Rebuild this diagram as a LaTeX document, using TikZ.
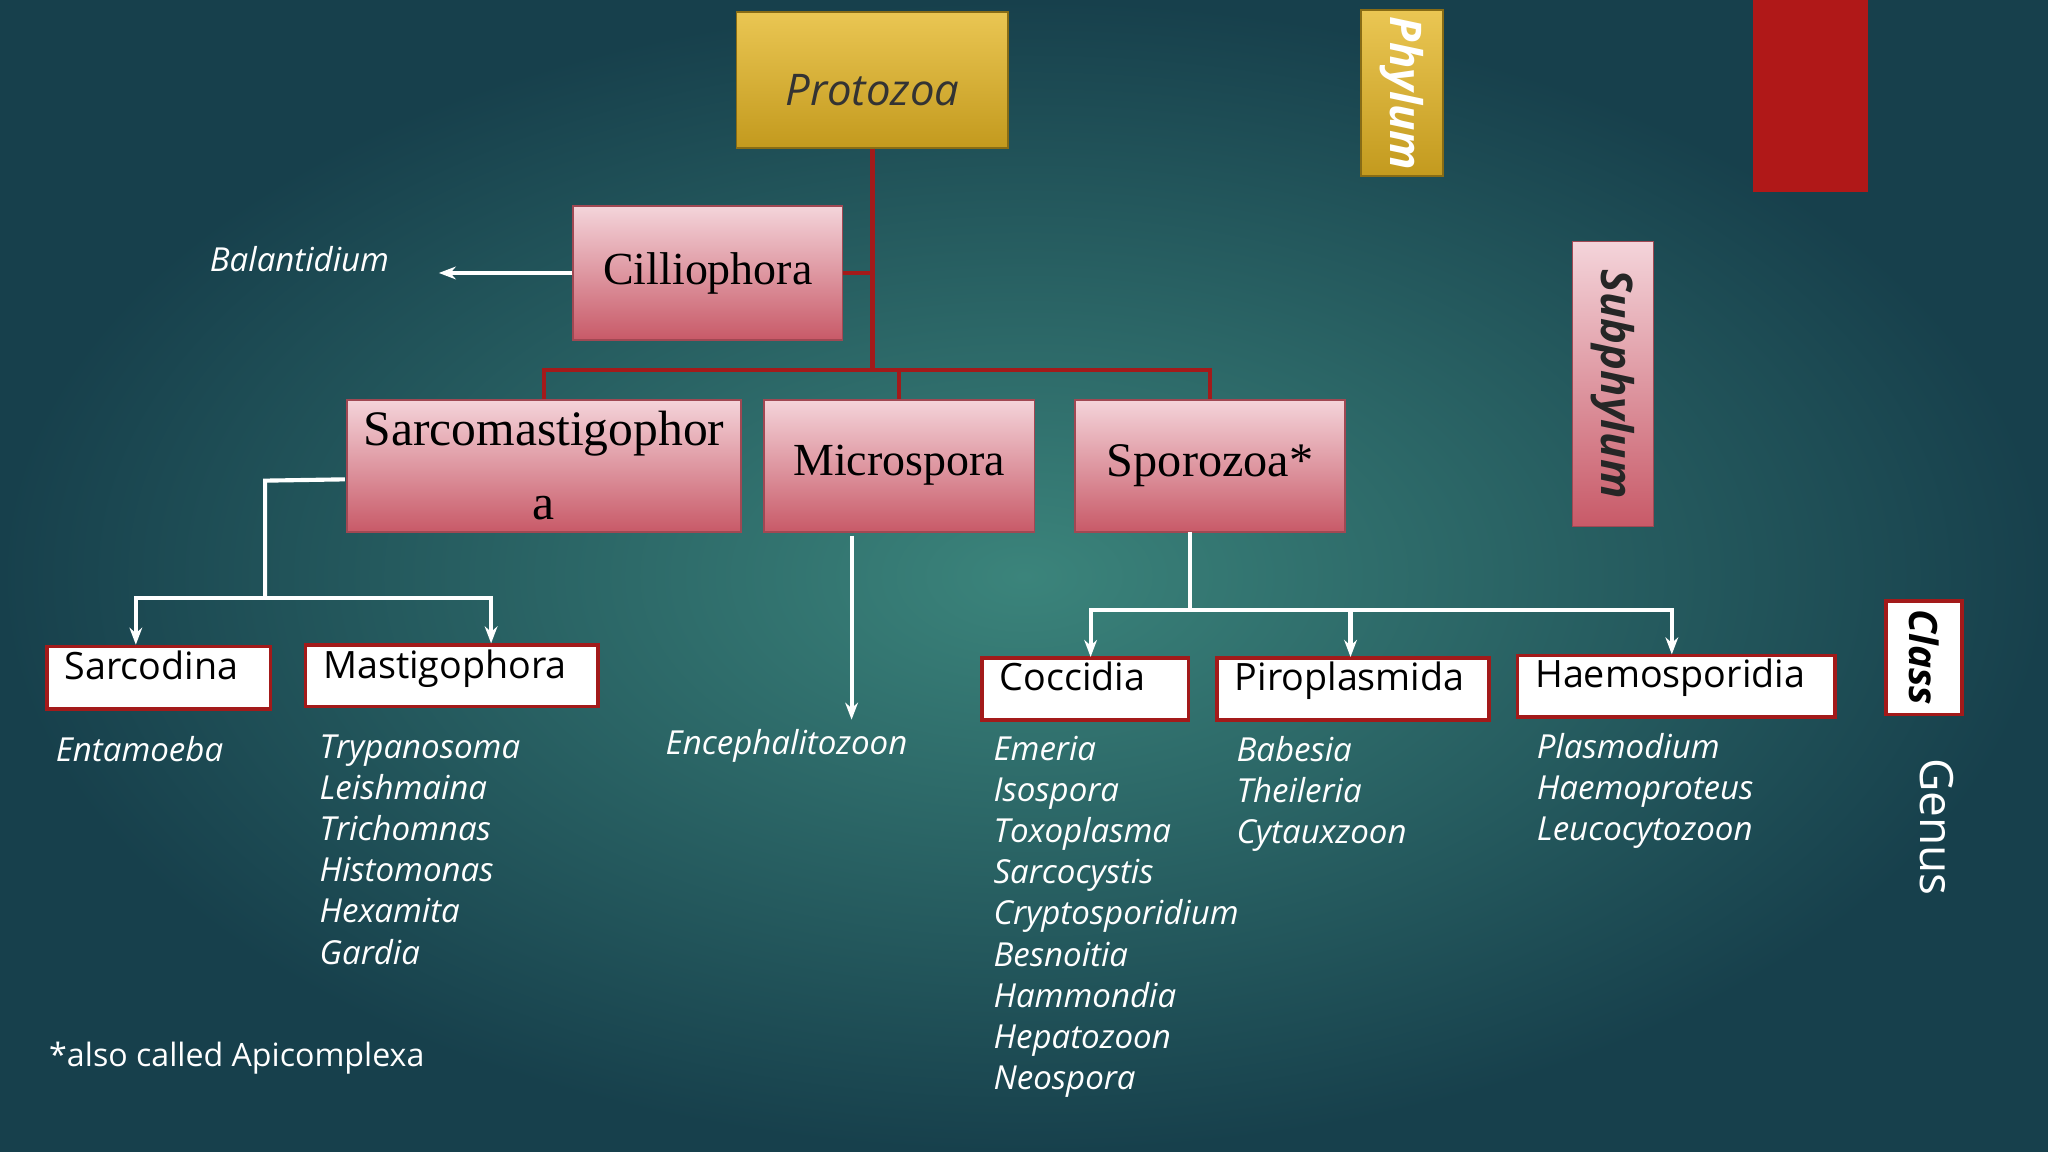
\documentclass[tikz,border=0pt]{standalone}
\usepackage{fontspec}
\setmainfont{Liberation Serif}
\newfontfamily\sansf{Open Sans}
\usetikzlibrary{arrows.meta,positioning}
\definecolor{bgin}{HTML}{3B847B}
\definecolor{bgout}{HTML}{17404C}
\definecolor{linkred}{HTML}{A31A1A}
\definecolor{goldtop}{HTML}{EAC653}
\definecolor{goldbot}{HTML}{C39A1E}
\definecolor{pinktop}{HTML}{F4D4DA}
\definecolor{pinkbot}{HTML}{C85A68}
\definecolor{blockred}{HTML}{B01818}
\tikzset{
  gold/.style={draw=goldbot!70!black, top color=goldtop, bottom color=goldbot, inner sep=0pt},
  pink/.style={draw=pinkbot!80!black, top color=pinktop, bottom color=pinkbot, inner sep=0pt,
    font=\fontsize{10}{12}\selectfont},
  cls/.style={draw=linkred, thick, fill=white, inner sep=0pt, text depth=0pt,
    font=\sansf\fontsize{8.2}{10}\selectfont},
  genus/.style={anchor=north west, align=left, text=white, inner sep=0pt,
    font=\sansf\itshape\fontsize{7.2}{8.95}\selectfont},
  redlink/.style={draw=linkred, line width=0.9pt},
  whitelink/.style={draw=white, line width=0.9pt},
  whitearrow/.style={whitelink, -{Stealth[length=1.3mm]}}
}
\begin{document}
\begin{tikzpicture}[x=0.01cm,y=-0.01cm]
\shade[inner color=bgin, outer color=bgout] (0,0) rectangle (1568,882);
\useasboundingbox (0,0) rectangle (1568,882);
% top level
\node[gold, minimum width=2.08cm, minimum height=1.04cm] (protozoa) at (668,61) {};
\node[font=\sansf\itshape\fontsize{9.5}{12}\selectfont, text=black!80] at (668,69) {Protozoa};
\node[gold, minimum width=0.63cm, minimum height=1.27cm] (phylum) at (1073.5,71.5) {};
\node[rotate=-90, font=\sansf\bfseries\itshape\fontsize{9.5}{12}\selectfont, text=white] at (phylum.center) {Phylum};
\fill[blockred] (1342,0) rectangle (1430,147);
% subphyla
\node[pink, minimum width=2.06cm, minimum height=1.02cm] (cilio) at (542,209) {Cilliophora};
\node[pink, minimum width=3.01cm, minimum height=1.01cm, align=center,
  font=\fontsize{10.8}{16}\selectfont] (sarco) at (416.5,356.5) {Sarcomastigophor\\a};
\node[pink, minimum width=2.07cm, minimum height=1.01cm] (micro) at (688.5,356.5) {Microspora};
\node[pink, minimum width=2.07cm, minimum height=1.01cm, font=\fontsize{10.5}{12}\selectfont] (sporo) at (926.5,356.5) {Sporozoa*};
\node[pink, minimum width=0.62cm, minimum height=2.18cm] (subph) at (1235,294) {};
\node[rotate=-90, font=\sansf\bfseries\itshape\fontsize{9.5}{12}\selectfont, text=black!85] at (subph.center) {Subphylum};
% classes
\node[cls, minimum width=1.71cm, minimum height=0.48cm] (sarcodina) at (121.5,519) {};
\node[cls, anchor=north west, draw=none, fill=none] at (48,497) {Sarcodina};
\node[cls, minimum width=2.24cm, minimum height=0.47cm] (mastigo) at (346,517.5) {};
\node[cls, anchor=north west, draw=none, fill=none] at (246,496) {Mastigophora};
\node[cls, minimum width=1.58cm, minimum height=0.47cm] (coccidia) at (831,527.5) {};
\node[cls, anchor=north west, draw=none, fill=none] at (764,505) {Coccidia};
\node[cls, minimum width=2.08cm, minimum height=0.47cm] (piro) at (1036,527.5) {};
\node[cls, anchor=north west, draw=none, fill=none] at (944,505) {Piroplasmida};
\node[cls, minimum width=2.43cm, minimum height=0.47cm] (haemo) at (1283.5,525.5) {};
\node[cls, anchor=north west, draw=none, fill=none] at (1174,503) {Haemosporidia};
\node[cls, minimum width=0.58cm, minimum height=0.87cm] (classlbl) at (1473,503.5) {};
\node[rotate=-90, font=\sansf\bfseries\itshape\fontsize{8.5}{10}\selectfont] at (classlbl.center) {Class};
\node[rotate=-90, text=white, font=\sansf\fontsize{10}{12}\selectfont] (genuslbl) at (1483,633) {Genus};
% genera
\node[genus] (balant) at (160,188) {Balantidium};
\node[genus] (entam) at (42,563) {Entamoeba};
\node[genus] (mastlist) at (244,562) {Trypanosoma\\Leishmaina\\Trichomnas\\Histomonas\\Hexamita\\Gardia};
\node[genus] (enceph) at (509,558) {Encephalitozoon};
\node[genus] (coclist) at (760,563) {Emeria\\Isospora\\Toxoplasma\\Sarcocystis\\Cryptosporidium\\Besnoitia\\Hammondia\\Hepatozoon\\Neospora};
\node[genus] (pirolist) at (946,563) {Babesia\\Theileria\\Cytauxzoon};
\node[genus] (haemlist) at (1176,561) {Plasmodium\\Haemoproteus\\Leucocytozoon};
\node[anchor=west, inner sep=0pt, text=white, font=\sansf\fontsize{7}{9}\selectfont] (foot) at (37,810) {*also called Apicomplexa};
% red tree
\coordinate (bus) at (668,283);
\draw[redlink] (protozoa.south) -- (bus);
\draw[redlink] (cilio.east) -- (cilio.east -| bus);
\draw[redlink] (sarco.north) |- (bus) -| (sporo.north);
\draw[redlink] (micro.north) -- (micro.north |- bus);
% white connectors
\coordinate (balend) at (336,209);
\draw[whitearrow] (cilio.west) -- (balend);
\coordinate (sarcoknee) at (203,368);
\coordinate (sarcobus) at (203,458);
\draw[whitelink] (264,367) -- (sarcoknee) -- (sarcobus);
\draw[whitearrow] (sarcobus) -| (sarcodina.north -| 104,0);
\draw[whitearrow] (sarcobus) -| (mastigo.north -| 376,0);
\coordinate (encend) at (652,551);
\draw[whitearrow] (652,410) -- (encend);
\coordinate (sporobus) at (911,467);
\draw[whitelink] (911,407) -- (sporobus);
\draw[whitearrow] (sporobus) -| (835,503);
\draw[whitearrow] (sporobus) -| (1280,501);
\draw[whitearrow] (1034,467) -- (1034,503);
\end{tikzpicture}
\end{document}
